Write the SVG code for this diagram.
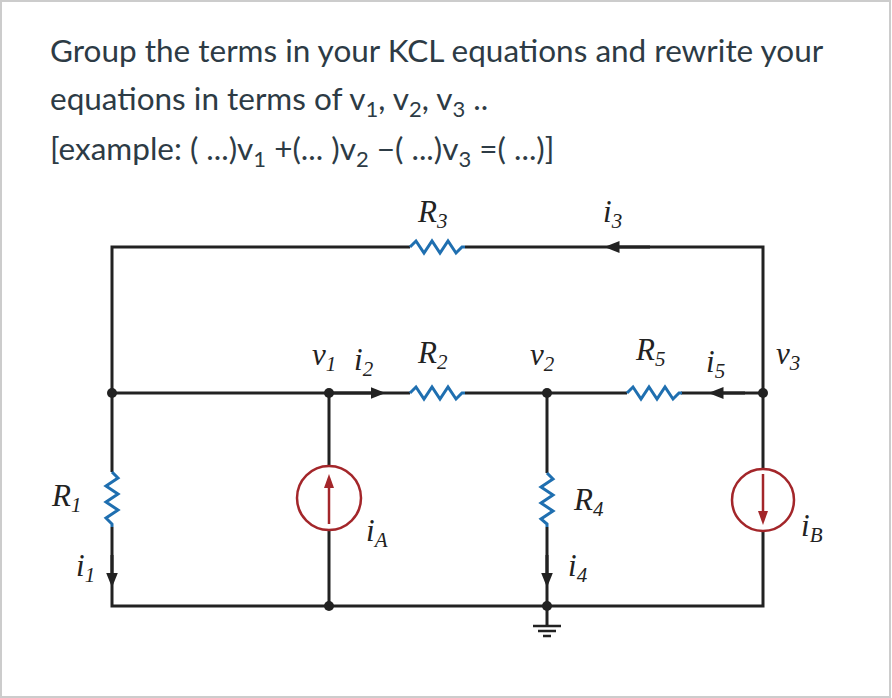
<svg xmlns="http://www.w3.org/2000/svg" width="892" height="698" viewBox="0 0 892 698">
<style>
.w{stroke:#222;stroke-width:3;fill:none}
.r{stroke:#1f6fb0;stroke-width:3;fill:none;stroke-linejoin:miter}
.s{stroke:#a3262a;stroke-width:2.5;fill:#fff}
.t{font-family:Lato,"Open Sans",sans-serif;font-size:31.5px;fill:#2d3b45}
.m{font-family:"Liberation Serif",serif;font-style:italic;font-size:31px;fill:#222}
.sub{font-size:21px}
</style>
<defs>
<marker id="a" viewBox="0 0 10 10" refX="5" refY="5" markerWidth="5" markerHeight="5" orient="auto"><path d="M0,1L10,5L0,9Z" fill="#222"/></marker>
</defs>
<rect x="1" y="1" width="889" height="696" fill="#fff" stroke="#ccc" stroke-width="2"/>
<g id="title" class="t">
<text x="50" y="62">Group the terms in your KCL equations and rewrite your</text>
<text x="50" y="110">equations in terms of v<tspan font-size="22" dy="7">1</tspan><tspan dy="-7">, v</tspan><tspan font-size="22" dy="7">2</tspan><tspan dy="-7">, v</tspan><tspan font-size="22" dy="7">3</tspan><tspan dy="-7">  ..</tspan></text>
<text x="50" y="160">[example: ( ...)v<tspan font-size="22" dy="7">1</tspan><tspan dy="-7"> +(... )v</tspan><tspan font-size="22" dy="7">2</tspan><tspan dy="-7"> −( ...)v</tspan><tspan font-size="22" dy="7">3</tspan><tspan dy="-7"> =( ...)]</tspan></text>
</g>
<g id="wires" class="w">
<path d="M410,247H112V472M112,527V606H763V531M763,469V247H465"/>
<path d="M112,393H410M465,393H627M681,393H763"/>
<path d="M329,393V466M329,530V606"/>
<path d="M547,393V473M547,527V625"/>
<path d="M533,626H561M538,631H556M543,636H551" stroke-width="2.5"/>
<path d="M329,393H378" marker-end="url(#a)"/>
<path d="M650,247H612" marker-end="url(#a)"/>
<path d="M745,393H716" marker-end="url(#a)"/>
<path d="M112,555V580" marker-end="url(#a)"/>
<path d="M547,555V580" marker-end="url(#a)"/>
</g>
<g id="nodes" fill="#222">
<circle cx="112" cy="393" r="5"/><circle cx="329" cy="393" r="5"/><circle cx="547" cy="393" r="5"/><circle cx="763" cy="393" r="5"/><circle cx="329" cy="606" r="5"/><circle cx="547" cy="606" r="5"/>
</g>
<g id="R3"><path class="r" d="M410,247l6,-6l8,12l8,-12l8,12l8,-12l8,12l6,-6h3"/></g>
<g id="R2"><path class="r" d="M410,393l6,-6l8,12l8,-12l8,12l8,-12l8,12l6,-6h3"/></g>
<g id="R5"><path class="r" d="M627,393l6,-6l8,12l8,-12l8,12l8,-12l8,12l6,-6h3"/></g>
<g id="R1"><path class="r" d="M112,472l6,6l-12,8l12,8l-12,8l12,8l-12,8l6,6v3"/></g>
<g id="R4"><path class="r" d="M547,473l6,6l-12,8l12,8l-12,8l12,8l-12,8l6,5v3"/></g>
<g id="iA"><circle class="s" cx="329" cy="498" r="32"/><path d="M329,524V484" stroke="#a3262a" stroke-width="2.5"/><path d="M324,488L329,474L334,488Z" fill="#a3262a"/></g>
<g id="iB"><circle class="s" cx="763" cy="500" r="31"/><path d="M763,474V514" stroke="#a3262a" stroke-width="2.5"/><path d="M758,511L763,525L768,511Z" fill="#a3262a"/></g>
<g id="labels" class="m">
<text x="418" y="222">R<tspan class="sub" dy="6">3</tspan></text>
<text x="603" y="222">i<tspan class="sub" dy="6">3</tspan></text>
<text x="312" y="365">v<tspan class="sub" dy="6">1</tspan></text>
<text x="354" y="370">i<tspan class="sub" dy="6">2</tspan></text>
<text x="418" y="363">R<tspan class="sub" dy="6">2</tspan></text>
<text x="530" y="365">v<tspan class="sub" dy="6">2</tspan></text>
<text x="636" y="360">R<tspan class="sub" dy="6">5</tspan></text>
<text x="706" y="372">i<tspan class="sub" dy="6">5</tspan></text>
<text x="776" y="364">v<tspan class="sub" dy="6">3</tspan></text>
<text x="52" y="506">R<tspan class="sub" dy="6">1</tspan></text>
<text x="76" y="576">i<tspan class="sub" dy="6">1</tspan></text>
<text x="366" y="541">i<tspan class="sub" dy="6">A</tspan></text>
<text x="574" y="510">R<tspan class="sub" dy="6">4</tspan></text>
<text x="568" y="576">i<tspan class="sub" dy="6">4</tspan></text>
<text x="801" y="536">i<tspan class="sub" dy="6">B</tspan></text>
</g>
</svg>
